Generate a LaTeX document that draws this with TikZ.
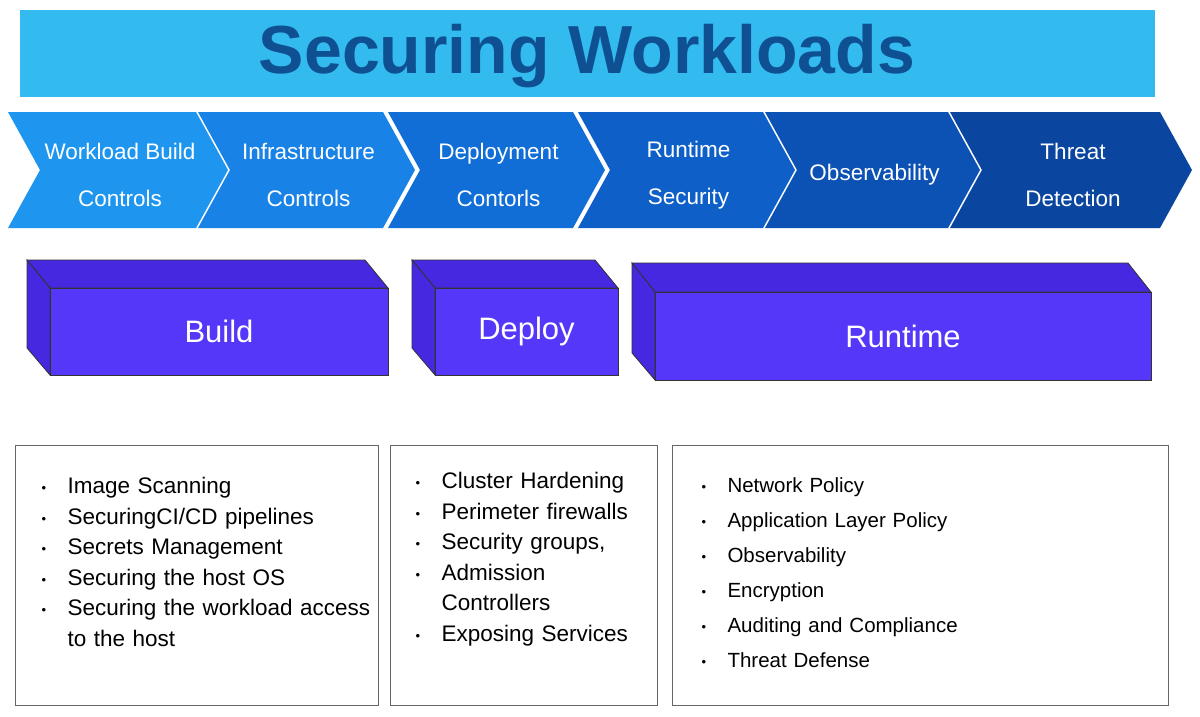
\documentclass[tikz,border=0pt]{standalone}
\usepackage{fontspec}
\setmainfont{Liberation Sans}
\begin{document}
\begin{tikzpicture}[x=1pt,y=-1pt,
 ctext/.style={text=white,font=\fontsize{22.5}{47}\selectfont,align=center},
 face/.style={fill=#1,draw=black!80,line width=0.8pt},
 list/.style={draw=black!60,line width=0.8pt,fill=white},
 item/.style={font=\fontsize{22.5}{30.5}\selectfont,align=left,anchor=north west,text width=#1}]
\useasboundingbox (0,0) rectangle (1200,717);
\fill[white] (0,0) rectangle (1200,717);
\node[fill={rgb,255:red,51;green,187;blue,240},minimum width=1135pt,minimum height=87pt,anchor=north west,inner sep=0] (title) at (20,10) {};
\node[text={rgb,255:red,14;green,80;blue,145},font=\bfseries\fontsize{68}{70}\selectfont] at (587,56) {Securing Workloads};
% chevrons
\definecolor{c1}{RGB}{30,150,240}\definecolor{c2}{RGB}{24,130,230}\definecolor{c3}{RGB}{18,110,215}
\definecolor{c4}{RGB}{14,95,200}\definecolor{c5}{RGB}{12,82,180}\definecolor{c6}{RGB}{10,70,160}
\foreach \i/\xa/\xb/\t in {1/8/228/{Workload Build\\Controls},2/198/415/{Infrastructure\\Controls},3/388/605/{Deployment\\Contorls},4/578/795/{Runtime\\Security},5/765/980/{Observability},6/950/1192/{Threat\\Detection}}{
 \fill[c\i] (\xa,112) -- (\xb-32,112) -- (\xb,170) -- (\xb-32,228) -- (\xa,228) -- (\xa+32,170) -- cycle;
 \node[ctext] (ch\i) at ({(\xa+\xb)/2+2},175) {\t};
}
% 3D boxes
\definecolor{bx}{RGB}{85,55,250}\definecolor{bxs}{RGB}{70,40,225}
\foreach \n/\a/\b/\yt/\yf/\yb/\t in {build/27/365/260/288/375/Build,deploy/412/595/260/288/375/Deploy,run/632/1128/263/292/380/Runtime}{
 \draw[face=bxs] (\a,\yt) -- (\b,\yt) -- (\b+23,\yf) -- (\a+23,\yf) -- cycle;
 \draw[face=bxs] (\a,\yt) -- (\a+23,\yf) -- (\a+23,\yb) -- (\a,\yb-27) -- cycle;
 \draw[face=bx] (\a+23,\yf) rectangle (\b+23,\yb);
 \node[text=white,font=\fontsize{31}{36}\selectfont] (\n) at ({(\a+\b)/2+23},{(\yf+\yb)/2}) {\t};
}
% lists
\def\bl{\makebox[26pt][l]{\raisebox{1pt}{\fontsize{13}{13}\selectfont\textbullet}}}
\def\bs{\hspace*{26pt}}
\draw[list] (15,445) rectangle (378,705);
\draw[list] (390,445) rectangle (657,705);
\draw[list] (672,445) rectangle (1168,705);
\node[item=345pt] (l1) at (38,474) {\bl Image Scanning\\\bl SecuringCI/CD pipelines\\\bl Secrets Management\\\bl Securing the host OS\\\bl Securing the workload access\\\bs to the host};
\node[item=250pt] (l2) at (412,469) {\bl Cluster Hardening\\\bl Perimeter firewalls\\\bl Security groups,\\\bl Admission\\\bs Controllers\\\bl Exposing Services};
\node[item=420pt,font=\fontsize{20.5}{35}\selectfont] (l3) at (698,474) {\bl Network Policy\\\bl Application Layer Policy\\\bl Observability\\\bl Encryption\\\bl Auditing and Compliance\\\bl Threat Defense};
\end{tikzpicture}
\end{document}
